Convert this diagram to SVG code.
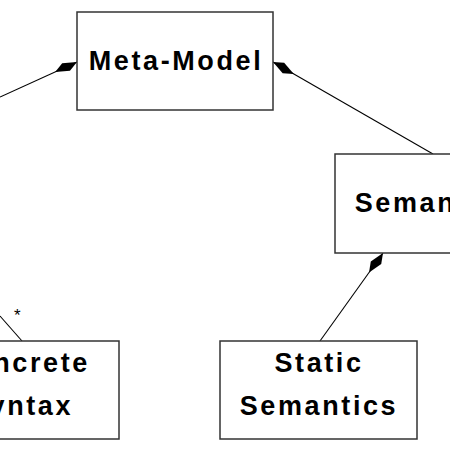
<svg xmlns="http://www.w3.org/2000/svg" width="450" height="450" viewBox="0 0 450 450">
<style>
.box{fill:#fff;stroke:#333;stroke-width:1.5}
.lbl{font-family:"Liberation Sans",Arial,sans-serif;font-weight:bold;font-size:27px;letter-spacing:2.6px;fill:#000;text-anchor:middle}
.conn{stroke:#000;stroke-width:1.1;fill:none}
.mult{font-family:"Liberation Sans",Arial,sans-serif;font-size:17px;fill:#000}
</style>
<defs>
<marker id="diamond" markerUnits="userSpaceOnUse" orient="auto" refX="0" refY="0" markerWidth="30" markerHeight="14" viewBox="0 -7 30 14" overflow="visible">
<path d="M0,0 L10,-5 L24,0 L14,5 Z" fill="#000"/>
</marker>
</defs>
<rect width="450" height="450" fill="#fff"/>
<g id="connectors">
<path class="conn" d="M77,62 L0,97" marker-start="url(#diamond)"/>
<path class="conn" d="M273,62 L433,154" marker-start="url(#diamond)"/>
<path class="conn" d="M383,253 L320,341" marker-start="url(#diamond)"/>
<path class="conn" d="M22,341 L0,316"/>
<text class="mult" x="14" y="321">*</text>
</g>
<g id="meta-model">
<rect class="box" x="77" y="12" width="196" height="98"/>
<text class="lbl" x="176" y="70">Meta-Model</text>
</g>
<g id="semantics">
<rect class="box" x="335" y="154" width="196" height="99"/>
<text class="lbl" x="434" y="212">Semantics</text>
</g>
<g id="concrete-syntax">
<rect class="box" x="-77" y="341" width="196" height="98"/>
<text class="lbl" x="21" y="372">Concrete</text>
<text class="lbl" x="21" y="415">Syntax</text>
</g>
<g id="static-semantics">
<rect class="box" x="220" y="341" width="197" height="98"/>
<text class="lbl" x="319" y="372">Static</text>
<text class="lbl" x="319" y="415">Semantics</text>
</g>
</svg>
